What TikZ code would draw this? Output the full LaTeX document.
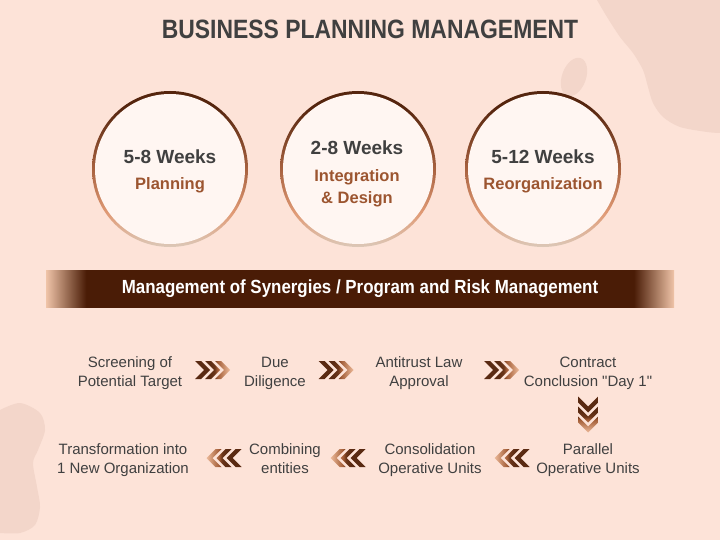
\documentclass[tikz,border=0pt]{standalone}
\usepackage{fontspec}
\setmainfont{Liberation Sans}[Ligatures=TeXOff]
\newfontfamily\condfont[FakeStretch=0.865]{Liberation Sans}
\newfontfamily\bancondfont[FakeStretch=0.89]{Liberation Sans}
\definecolor{bg}{HTML}{FDE3D8}
\definecolor{blob}{HTML}{F3D6CA}
\definecolor{cream}{HTML}{FFF6F2}
\definecolor{ringTop}{HTML}{55250E}
\definecolor{ringMid}{HTML}{A86240}
\definecolor{ringCop}{HTML}{E09A75}
\definecolor{ringBot}{HTML}{DCC8B8}
\definecolor{txt}{HTML}{404040}
\definecolor{phase}{HTML}{9C5530}
\definecolor{bannerc}{HTML}{4A1C06}
\definecolor{bannerEnd}{HTML}{F0C4A8}
\definecolor{chD}{HTML}{5A2A12}
\definecolor{chDb}{HTML}{6B3519}
\definecolor{chM}{HTML}{A25C36}
\definecolor{chL}{HTML}{EDBA9A}
\pgfdeclarehorizontalshading{bannershade}{100bp}{color(0bp)=(bannerEnd); color(25bp)=(bannerEnd); color(28.2bp)=(bannerc); color(71.8bp)=(bannerc); color(75bp)=(bannerEnd); color(100bp)=(bannerEnd)}
\pgfdeclarehorizontalshading{chevshade}{100bp}{color(0bp)=(chD); color(25bp)=(chD); color(45bp)=(chD); color(53bp)=(chDb); color(57bp)=(chM); color(75bp)=(chL); color(100bp)=(chL)}
\pgfdeclareverticalshading{ringshade}{100bp}{color(0bp)=(ringBot); color(25bp)=(ringBot); color(36bp)=(ringCop); color(50bp)=(ringMid); color(70bp)=(ringTop); color(100bp)=(ringTop)}
\tikzset{
  titletext/.style={text=txt, font=\condfont\bfseries\fontsize{26.5}{30}\selectfont, inner sep=0pt},
  weektext/.style={text=txt, font=\bfseries\fontsize{19}{22}\selectfont, inner sep=0pt},
  phasetext/.style={text=phase, font=\bfseries\fontsize{16.5}{22}\selectfont, inner sep=0pt, align=center},
  bannertext/.style={text=white, font=\bancondfont\bfseries\fontsize{19}{20}\selectfont, inner sep=0pt},
  steptext/.style={text=txt, font=\fontsize{15}{19}\selectfont, inner sep=0pt, align=center, text height=11pt, text depth=4pt},
  ringdisc/.style={circle, fill=cream, minimum size=150pt, inner sep=0pt},
  chevR/.pic={
    \shade[shading=chevshade]
      (-17.5,-9) -- (-11.5,-9) -- (-2.5,0) -- (-11.5,9) -- (-17.5,9) -- (-8.5,0) -- cycle
      (-7.5,-9) -- (-1.5,-9) -- (7.5,0) -- (-1.5,9) -- (-7.5,9) -- (1.5,0) -- cycle
      (2.5,-9) -- (8.5,-9) -- (17.5,0) -- (8.5,9) -- (2.5,9) -- (11.5,0) -- cycle;
  },
  chevL/.pic={
    \shade[shading=chevshade, shading angle=180]
      (17.5,-9) -- (11.5,-9) -- (2.5,0) -- (11.5,9) -- (17.5,9) -- (8.5,0) -- cycle
      (7.5,-9) -- (1.5,-9) -- (-7.5,0) -- (1.5,9) -- (7.5,9) -- (-1.5,0) -- cycle
      (-2.5,-9) -- (-8.5,-9) -- (-17.5,0) -- (-8.5,9) -- (-2.5,9) -- (-11.5,0) -- cycle;
  },
  chevD/.pic={
    \shade[shading=chevshade, shading angle=-90]
      (-10,-18) -- (0,-8) -- (10,-18) -- (10,-12) -- (0,-2) -- (-10,-12) -- cycle
      (-10,-8) -- (0,2) -- (10,-8) -- (10,-2) -- (0,8) -- (-10,-2) -- cycle
      (-10,2) -- (0,12) -- (10,2) -- (10,8) -- (0,18) -- (-10,8) -- cycle;
  }
}
\begin{document}
\begin{tikzpicture}[x=1pt,y=-1pt]
\useasboundingbox (0,0) rectangle (720,540);
\fill[bg] (0,0) rectangle (720,540);
% background blobs
\fill[blob] plot[smooth] coordinates {(597,0) (607,17) (620,37) (633,53) (643,70) (648,87) (653,103) (663,117) (680,127) (707,132) (720,133)} -- (720,0) -- cycle;
\fill[blob, rotate around={-20:(574,77)}] (574,77) ellipse [x radius=12, y radius=20];
\fill[blob] plot[smooth] coordinates {(0,410) (20,403) (40,413) (45,430) (38,450) (33,463) (37,487) (40,507) (35,525) (20,533) (0,533)} -- cycle;
% title
\node[titletext] (title) at (370,29) {BUSINESS PLANNING MANAGEMENT};
% circles
\foreach \cx/\nm in {170/c1, 358/c2, 543/c3}{
  \shade[shading=ringshade] (\cx,169) circle (78);
  \node[ringdisc] (\nm) at (\cx,169) {};
}
\node[weektext] (c1w) at (170,157) {5-8 Weeks};
\node[phasetext] (c1p) at (170,185) {Planning};
\node[weektext] (c2w) at (357,148) {2-8 Weeks};
\node[phasetext] (c2p) at (357,188) {Integration\\\& Design};
\node[weektext] (c3w) at (543,157) {5-12 Weeks};
\node[phasetext] (c3p) at (543,185) {Reorganization};
% banner
\shade[shading=bannershade] (46,270) rectangle (674,307);
\node[bannertext] (banner) at (360,289) {Management of Synergies / Program and Risk Management};
% steps row 1
\node[steptext] (s1) at (130,383) {Screening of\\Potential Target};
\node[steptext] (s2) at (275,383) {Due\\Diligence};
\node[steptext] (s3) at (419,383) {Antitrust Law\\Approval};
\node[steptext] (s4) at (588,383) {Contract\\Conclusion "Day 1"};
% steps row 2
\node[steptext] (s5) at (588,470) {Parallel\\Operative Units};
\node[steptext] (s6) at (430,470) {Consolidation\\Operative Units};
\node[steptext] (s7) at (285,470) {Combining\\entities};
\node[steptext] (s8) at (123,470) {Transformation into\\1 New Organization};
% chevrons
\pic (a1) at (212.5,370) {chevR};
\pic (a2) at (336,370) {chevR};
\pic (a3) at (501.5,370) {chevR};
\pic (a4) at (588,414.5) {chevD};
\pic (a5) at (512,458) {chevL};
\pic (a6) at (348,458) {chevL};
\pic (a7) at (224,458) {chevL};
\end{tikzpicture}
\end{document}
